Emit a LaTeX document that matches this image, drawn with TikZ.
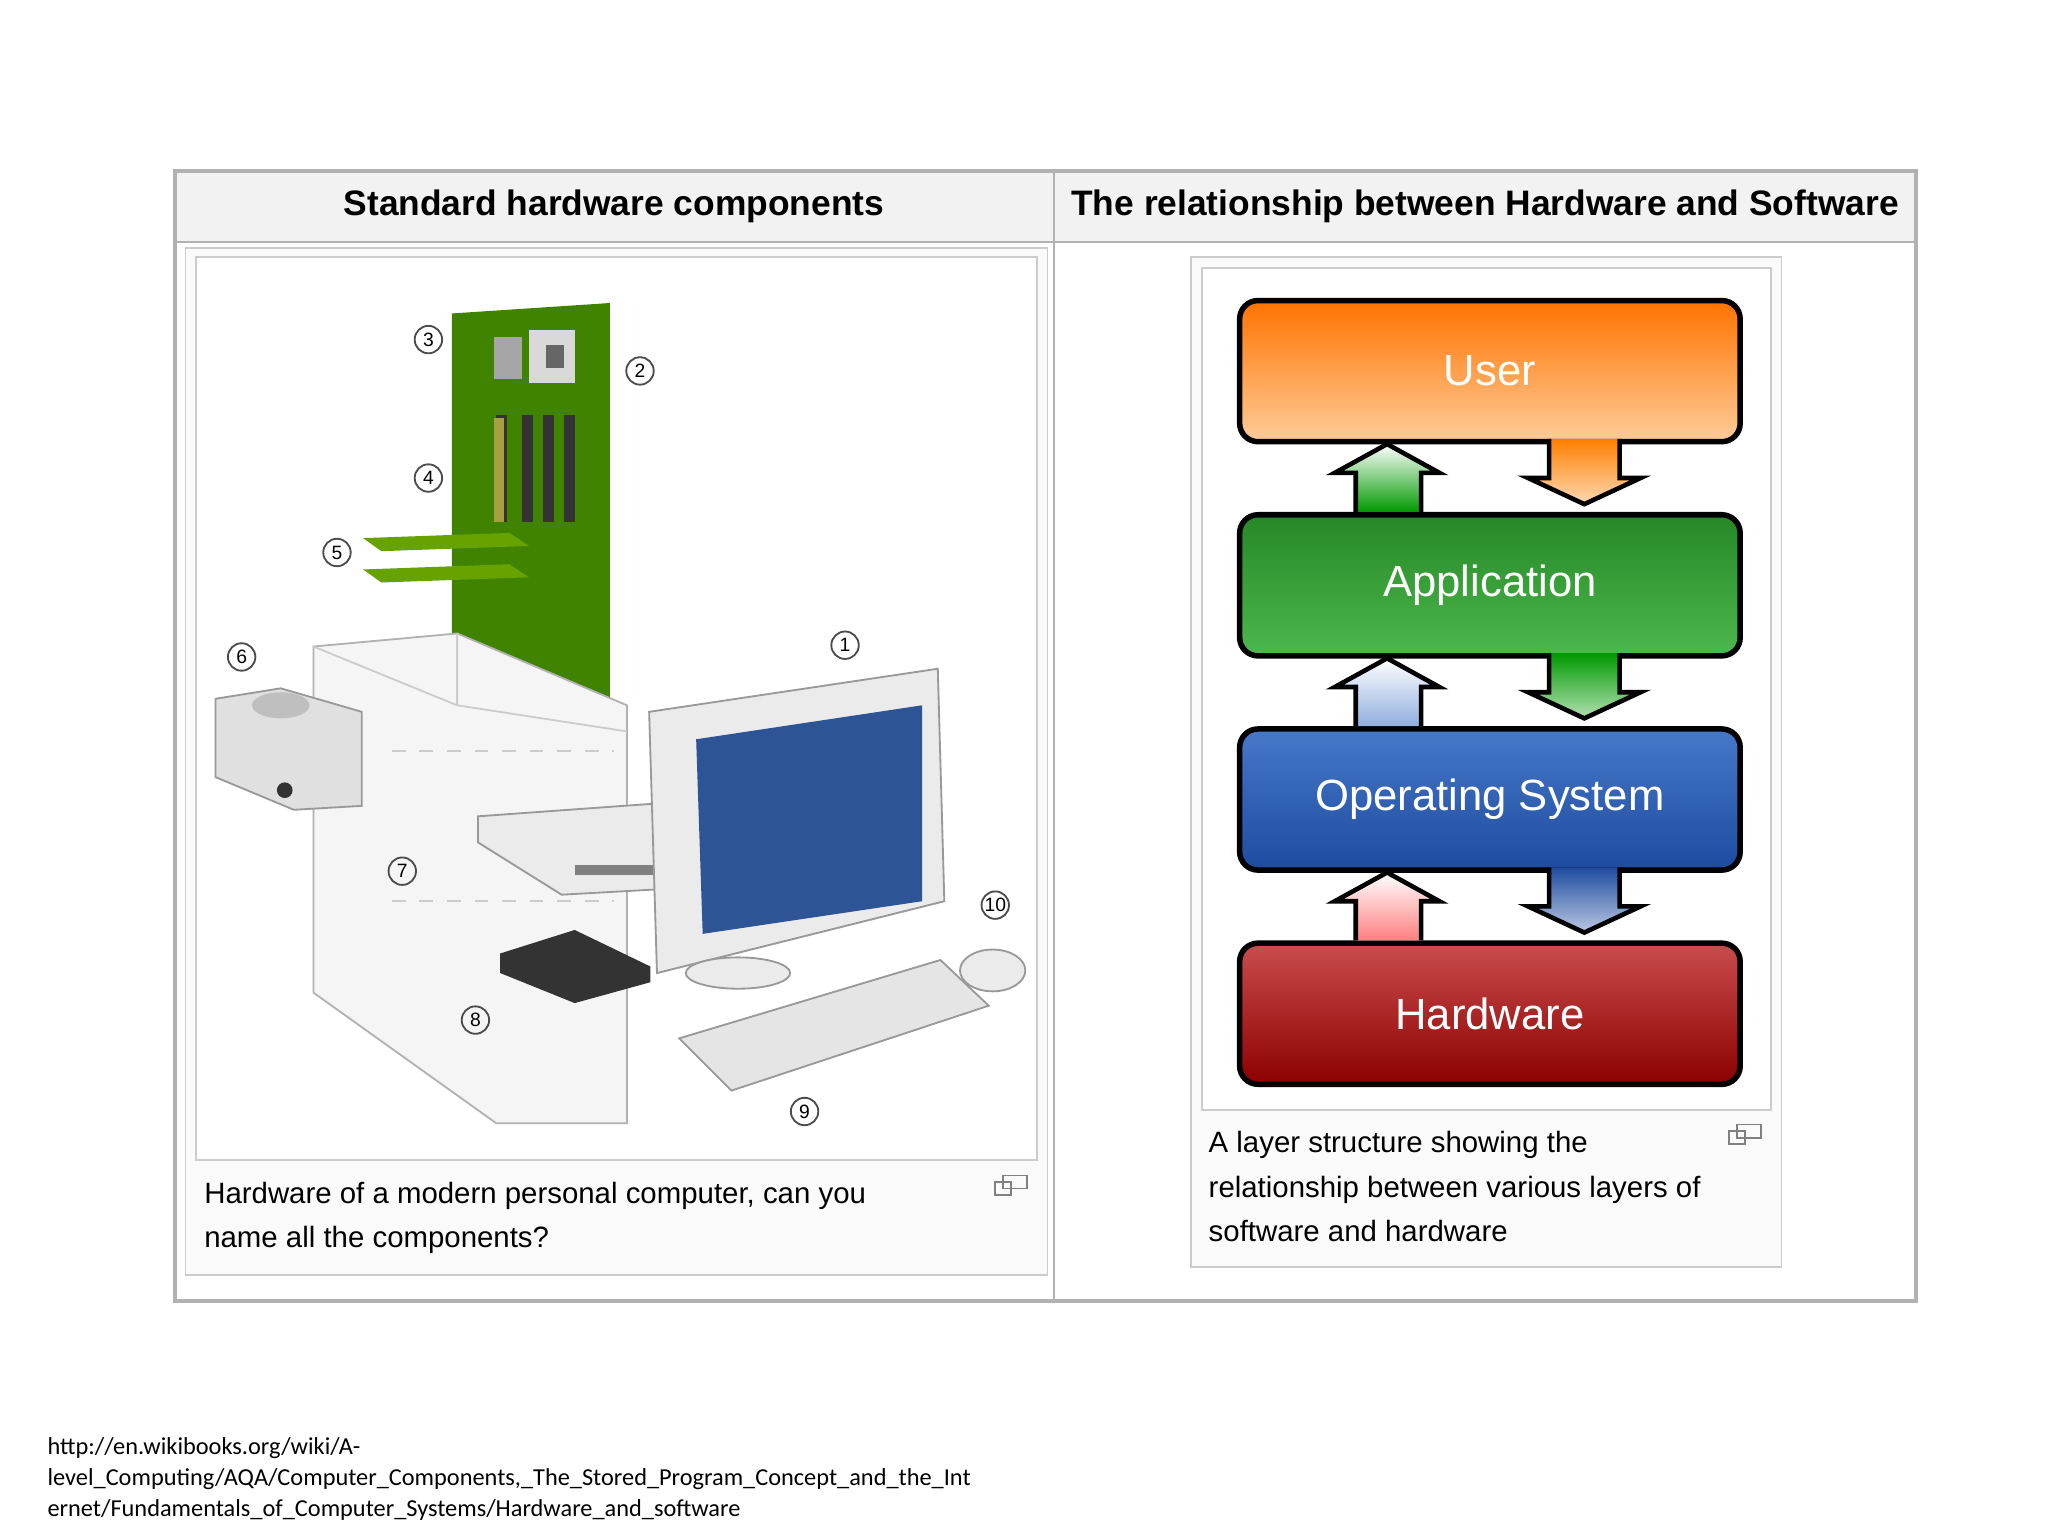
\documentclass[tikz,border=0pt]{standalone}
\usepackage{fontspec}
\setmainfont{Liberation Sans}
\newfontfamily\urlfont{Carlito}
\definecolor{scr}{RGB}{45,85,150}
\definecolor{ostop}{RGB}{70,120,200}
\definecolor{osbot}{RGB}{30,75,160}
\begin{document}
\begin{tikzpicture}[x=0.01cm,y=-0.01cm,
 hdr/.style={font=\fontsize{7.7}{9}\selectfont\bfseries},
 captext/.style={font=\fontsize{6.4}{9.6}\selectfont,align=left,anchor=north west},
 layer/.style={draw=black,line width=1.2pt,rounded corners=4pt,minimum width=3.83cm,minimum height=1.08cm,anchor=north west,text=white,font=\fontsize{9.5}{11}\selectfont},
 num/.style={circle,draw=black!70,thin,inner sep=0pt,minimum size=0.21cm,font=\fontsize{4.2}{5}\selectfont},
 arr/.style={draw=black,line width=1pt,line join=miter}]
\useasboundingbox (0,0) rectangle (1568,1176);
\fill[white] (0,0) rectangle (1568,1176);
% table
\fill[black!5] (134,131) rectangle (1467,185);
\draw[black!30,line width=0.8pt] (134,131) rectangle (1467,996);
\draw[black!30] (134,185) -- (1467,185) (807,131) -- (807,996);
\node[hdr] (h1) at (470,158) {Standard hardware components};
\node[hdr] (h2) at (1137,158) {The relationship between Hardware and Software};
% left frame
\draw[black!20,fill=black!2] (142,190) rectangle (802,976);
\draw[black!20,fill=white] (150,197) rectangle (794,888);
\node[captext] (c1) at (144,893) {Hardware of a modern personal computer, can you\\name all the components?};
\draw[black!50] (762,905) rectangle (774,915) (768,900) rectangle (786,910);
% right frame
\draw[black!20,fill=black!2] (912,197) rectangle (1364,970);
\draw[black!20,fill=white] (920,205) rectangle (1356,850);
\node[captext] (c2) at (913,854) {A layer structure showing the\\relationship between various layers of\\software and hardware};
\draw[black!50] (1324,866) rectangle (1336,876) (1330,861) rectangle (1348,871);
% layers
\node[layer,top color=orange!90!red,bottom color=orange!40!white] (user) at (947,228) {User};
\node[layer,top color=green!45!black!85,bottom color=green!60!black!70] (app) at (947,392) {Application};
\node[layer,top color=ostop,bottom color=osbot] (os) at (947,556) {Operating System};
\node[layer,top color=red!70!black!70,bottom color=red!55!black] (hw) at (947,720) {Hardware};
% arrows
\foreach \t/\c in {336/orange, 500/green!60!black, 664/osbot}{
 \draw[arr,top color=\c,bottom color=\c!30!white] (1186,\t) -- (1186,\t+30) -- (1170,\t+30) -- (1213,\t+50) -- (1256,\t+30) -- (1240,\t+30) -- (1240,\t);
}
\foreach \t/\c in {392/green!60!black, 556/ostop!60!white, 720/red!50!white}{
 \draw[arr,bottom color=\c,top color=white] (1038,\t) -- (1038,\t-30) -- (1022,\t-30) -- (1062,\t-52) -- (1102,\t-30) -- (1088,\t-30) -- (1088,\t);
}
% hardware illustration
\fill[green!35!black!75!yellow] (346,240) -- (467,232) -- (467,535) -- (346,490) -- cycle;
\fill[black!35] (378,258) rectangle (400,290);
\fill[black!15] (405,253) rectangle (440,293);
\fill[black!60] (418,264) rectangle (432,282);
\foreach \x in {380,400,416,432}{\fill[black!80] (\x,318) rectangle (\x+8,400);}
\fill[yellow!60!black] (378,320) rectangle (386,400);
\fill[green!40!black!60!yellow] (278,412) -- (390,408) -- (405,418) -- (292,422) -- cycle;
\fill[green!40!black!60!yellow] (278,436) -- (390,432) -- (405,442) -- (292,446) -- cycle;
% case
\draw[black!30,fill=black!4] (240,495) -- (350,485) -- (480,540) -- (480,860) -- (380,860) -- (240,760) -- cycle;
\draw[black!20] (350,485) -- (350,540) -- (480,560) (240,495) -- (350,540);
\draw[black!20,dashed] (300,575) -- (470,575) (300,690) -- (470,690);
% psu
\draw[black!40,fill=black!12] (165,535) -- (215,527) -- (277,545) -- (277,617) -- (225,620) -- (165,595) -- cycle;
\fill[black!25] (215,540) ellipse (22 and 10);
\fill[black!80] (218,605) circle (6);
% drive
\draw[black!40,fill=black!8] (366,625) -- (505,615) -- (520,640) -- (520,680) -- (430,685) -- (366,645) -- cycle;
\fill[black!50] (440,662) rectangle (505,670);
% hdd
\fill[black!80] (383,730) -- (440,712) -- (498,740) -- (498,752) -- (440,768) -- (383,745) -- cycle;
% monitor
\draw[black!40,fill=black!8] (497,545) -- (718,512) -- (723,690) -- (503,745) -- cycle;
\fill[scr] (533,566) -- (706,540) -- (706,690) -- (538,715) -- cycle;
\draw[black!40,fill=black!8] (565,745) ellipse (40 and 12);
% keyboard
\draw[black!40,fill=black!10] (520,795) -- (720,735) -- (757,770) -- (560,835) -- cycle;
\draw[black!40,fill=black!8] (760,743) ellipse (25 and 16);
% callout numbers
\foreach \n/\x/\y in {1/647/494,2/490/284,3/328/260,4/328/366,5/258/423,6/185/503,7/308/667,8/364/781,9/616/851,10/762/693}{
 \node[num] (n\n) at (\x,\y) {\n};
}
% url
\node[anchor=north west,align=left,font=\urlfont\fontsize{5.3}{6.8}\selectfont] (url) at (24,1088) {http://en.wikibooks.org/wiki/A-\\level\_Computing/AQA/Computer\_Components,\_The\_Stored\_Program\_Concept\_and\_the\_Int\\ernet/Fundamentals\_of\_Computer\_Systems/Hardware\_and\_software};
\end{tikzpicture}
\end{document}
